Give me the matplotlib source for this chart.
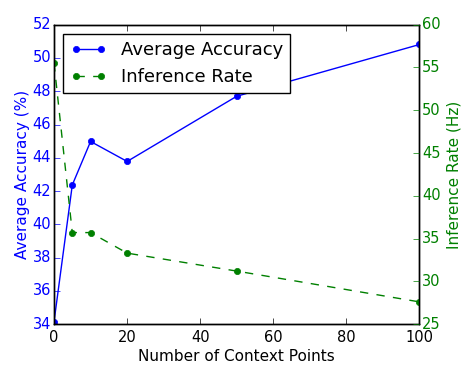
import matplotlib
matplotlib.use("Agg")
from matplotlib import pyplot as plt

plt.style.use('classic')

context_points = [0, 5, 10, 20, 50, 100]
accuracy = [34.15, 42.37, 44.98, 43.78, 47.7, 50.81]
inference_rate = [55.5, 35.7, 35.7, 33.3, 31.2, 27.6]

fig = plt.figure(figsize=(4.74, 3.80), dpi=100, facecolor='white')
ax1 = fig.add_subplot(111)
fig.subplots_adjust(left=0.114, right=0.885, top=0.935, bottom=0.147)
ax2 = ax1.twinx()

l1, = ax1.plot(context_points, accuracy, 'b-', marker='o', markersize=4.5,
               markeredgecolor='b', label='Average Accuracy')
l2, = ax2.plot(context_points, inference_rate, 'g--', marker='o', markersize=4.5,
               markeredgecolor='g', label='Inference Rate')

ax1.set_xlim(0, 100)
ax1.set_ylim(34, 52)
ax2.set_ylim(25, 60)

ax1.set_xlabel('Number of Context Points', fontsize=11, labelpad=3)
ax1.set_ylabel('Average Accuracy (%)', color='b', fontsize=11, labelpad=2)
ax2.set_ylabel('Inference Rate (Hz)', color='g', fontsize=11, labelpad=4)
ax1.tick_params(axis='y', colors='b', labelsize=10.5, pad=2)
ax1.tick_params(axis='x', labelsize=10.5, pad=4)
ax2.tick_params(axis='y', colors='g', labelsize=10.5, pad=2)
for sp in ax2.spines.values():
    sp.set_color('black')

ax1.legend([l1, l2], ['Average Accuracy', 'Inference Rate'], loc='upper left',
           fontsize=13, numpoints=2, handlelength=2.0)

fig.savefig('out.png', dpi=100, facecolor='white')
